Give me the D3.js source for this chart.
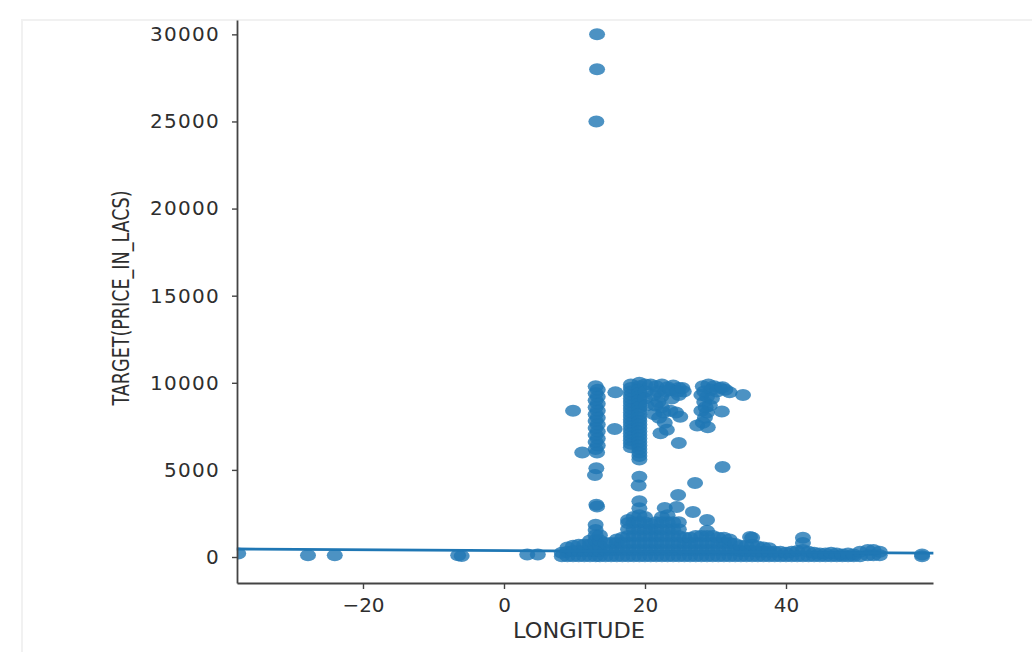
<!DOCTYPE html>
<html>
<head>
<meta charset="utf-8">
<script src="https://cdn.jsdelivr.net/npm/d3@7"></script>
<style>
  body { margin: 0; background: #fff; }
  svg { display: block; font-family: "DejaVu Sans", sans-serif; }
</style>
</head>
<body>
<div id="chart"></div>
<script>
// Far outliers near longitude 13
const outlierPts = [[13.2, 30000], [13.2, 28000], [13.1, 25000]];

// Sparse points west of the main cluster
const westPts = [[-37.7, 200], [-27.8, 100], [-24.0, 100], [-6.5, 100], [-6.0, 60], [3.3, 150], [4.8, 150]];

// Dense base band: longitude of each stack and the prices stacked there
const baseLon = [8.2, 9.0, 9.8, 10.6, 11.4, 12.2, 13.0, 13.6, 14.4, 15.2, 16.0, 16.8, 17.6, 18.4, 19.2, 20.0,
  20.8, 21.6, 22.4, 23.2, 24.0, 24.8, 25.6, 26.4, 27.2, 28.0, 28.8, 29.6, 30.4, 31.2, 32.0, 32.8, 33.6,
  34.4, 35.2, 36.0, 36.8, 37.6, 38.4, 39.2, 40.0, 40.8, 41.6, 42.4, 43.2, 44.0, 44.8, 45.6, 46.4, 47.2,
  48.0, 48.8, 49.6, 50.5, 51.6, 52.4, 53.3, 59.3];
const basePrices = [
  [50, 250], [50, 300, 550], [50, 350, 650], [50, 350, 700], [50, 350, 700], [50, 350, 700, 950],
  [50, 350, 650, 950, 1250, 1550, 1850], [50, 350, 650, 950, 1250], [50, 400, 800], [50, 400, 800],
  [50, 400, 800, 1000], [50, 400, 800, 1100], [50, 400, 800, 1200, 1600, 1950, 2120],
  [50, 400, 800, 1200, 1600, 2000, 2300], [50, 400, 800, 1200, 1600, 2000, 2400, 2800, 3200],
  [50, 400, 800, 1200, 1600, 2000, 2300], [50, 400, 800, 1200, 1600, 1900],
  [50, 400, 800, 1200, 1600, 2000], [50, 400, 800, 1200, 1600, 2000, 2300],
  [50, 400, 800, 1200, 1600, 2000, 2400], [50, 400, 800, 1200, 1600, 2000],
  [50, 400, 800, 1200, 1600, 2000], [50, 400, 800, 1100], [50, 400, 800, 1100],
  [50, 400, 800, 1200], [50, 400, 800, 1200], [50, 400, 800, 1200, 1500], [50, 400, 800, 1200],
  [50, 400, 800, 1100], [50, 400, 800, 1100], [50, 400, 800, 1000], [50, 400, 750], [50, 350, 650],
  [50, 350, 650], [50, 350, 700, 1100], [50, 300, 600], [50, 300, 550], [50, 300, 500], [50, 300],
  [50, 300], [50, 250], [50, 300], [50, 350], [50, 400, 800, 1100], [50, 300], [50, 250], [50, 200],
  [50, 200], [50, 250], [50, 200], [50, 150], [50, 200], [50, 150], [50, 300], [100, 400], [100, 400],
  [100, 300], [50, 150]
];

// Vertical column near longitude 13
const col13Pts = [[13.0, 9800], [13.3, 9600], [13.0, 9400], [13.3, 9200], [13.0, 9000], [13.3, 8800],
  [13.0, 8600], [13.3, 8400], [13.0, 8200], [13.3, 8000], [13.0, 7800], [13.3, 7600], [13.0, 7400],
  [13.3, 7200], [13.0, 7000], [13.3, 6800], [13.0, 6600], [13.3, 6400], [13.0, 6200], [13.2, 6000],
  [13.1, 5100], [12.9, 4700], [13.1, 3000], [13.2, 2900],
  [9.8, 8400], [11.1, 6000], [15.8, 9450], [15.7, 7350]];

// Vertical columns near longitude 18-20
const col19Pts = [[18.0, 9900], [18.0, 9700], [18.0, 9500], [18.0, 9300], [18.0, 9100], [18.0, 8900],
  [18.0, 8700], [18.0, 8500], [18.0, 8300], [18.0, 8100], [18.0, 7900], [18.0, 7700], [18.0, 7500],
  [18.0, 7300], [18.0, 7100], [18.0, 6900], [18.0, 6700], [18.0, 6500], [18.0, 6300],
  [19.2, 10000], [19.2, 9800], [19.2, 9600], [19.2, 9400], [19.2, 9200], [19.2, 9000], [19.2, 8800],
  [19.2, 8600], [19.2, 8400], [19.2, 8200], [19.2, 8000], [19.2, 7800], [19.2, 7600], [19.2, 7400],
  [19.2, 7200], [19.2, 7000], [19.2, 6800], [19.2, 6600], [19.2, 6400], [19.2, 6200], [19.2, 6000],
  [19.2, 5800], [19.2, 5600], [19.2, 4600], [19.1, 4100],
  [20.0, 9900], [20.1, 9500], [20.0, 9100], [20.2, 8700]];

// Upper groups around longitude 21-26 and 27-34
const eastPts = [[20.8, 9900], [21.6, 9800], [22.4, 9900], [23.2, 9750], [24.0, 9850], [24.8, 9700],
  [25.5, 9500], [21.8, 9500], [22.3, 9200], [21.9, 8900], [22.4, 8600], [22.6, 8300], [22.0, 8000],
  [22.8, 7700], [23.1, 7300], [22.2, 7100], [23.6, 8400], [24.4, 8300], [25.0, 8050], [23.8, 9100],
  [24.8, 9300], [24.8, 6550], [21.2, 9300], [21.5, 8700], [21.3, 8200], [22.9, 9500], [23.6, 9600],
  [24.6, 9500], [25.3, 9700],
  [28.2, 9800], [29.0, 9900], [29.8, 9800], [30.6, 9700], [31.4, 9600], [32.0, 9450], [33.9, 9300],
  [28.4, 9500], [28.8, 9200], [28.4, 8900], [28.6, 8600], [28.8, 8300], [28.5, 8000], [28.2, 7700],
  [27.4, 7550], [28.9, 7450], [30.9, 8350], [31.0, 5170], [29.4, 9600], [30.2, 9500], [31.0, 9750],
  [28.0, 9300], [29.2, 8700], [28.0, 8400], [29.5, 9100]];

// Scattered mid-level points
const midPts = [[27.1, 4250], [24.7, 3560], [22.8, 2810], [24.5, 2870], [26.8, 2580], [28.8, 2120], [34.9, 1150]];

// Fitted regression line end points
const regLon = [-37.9, 60.9];
const regPrice = [460, 220];

const xTicks = [-20, 0, 20, 40];
const yTicks = [0, 5000, 10000, 15000, 20000, 25000, 30000];

const W = 1032, H = 652;
const svg = d3.select('#chart').append('svg')
  .attr('width', W)
  .attr('height', H);

svg.append('rect').attr('width', W).attr('height', H).attr('fill', '#fff');
// faint frame of the original screenshot
svg.append('rect')
  .attr('x', 22).attr('y', 20).attr('width', W).attr('height', H)
  .attr('fill', 'none').attr('stroke', '#f1f1f1').attr('stroke-width', 2);

const x = d3.scaleLinear().domain([-37.87, 60.85]).range([237, 933]);
const y = d3.scaleLinear().domain([-1492, 30824]).range([583, 20]);

// collect every point
const allPts = [];
outlierPts.forEach(p => allPts.push(p));
westPts.forEach(p => allPts.push(p));
baseLon.forEach((lon, i) => basePrices[i].forEach(v => allPts.push([lon, v])));
col13Pts.forEach(p => allPts.push(p));
col19Pts.forEach(p => allPts.push(p));
eastPts.forEach(p => allPts.push(p));
midPts.forEach(p => allPts.push(p));

const plot = svg.append('g');
plot.append('clipPath').attr('id', 'clip')
  .append('rect').attr('x', 237).attr('y', 0).attr('width', 696).attr('height', 583);

plot.append('g')
  .attr('clip-path', 'url(#clip)')
  .selectAll('ellipse')
  .data(allPts)
  .join('ellipse')
  .attr('cx', d => x(d[0]))
  .attr('cy', d => y(d[1]))
  .attr('rx', 8)
  .attr('ry', 6)
  .attr('fill', '#1f77b4')
  .attr('fill-opacity', 0.8);

// regression line
plot.append('line')
  .attr('x1', x(regLon[0])).attr('y1', y(regPrice[0]))
  .attr('x2', x(regLon[1])).attr('y2', y(regPrice[1]))
  .attr('stroke', '#1f77b4')
  .attr('stroke-width', 2.8);

// axes
const xAxis = svg.append('g')
  .attr('transform', 'translate(0,583)')
  .call(d3.axisBottom(x).tickValues(xTicks).tickSize(6).tickSizeOuter(0).tickPadding(9)
    .tickFormat(d => d < 0 ? '\u2212' + Math.abs(d) : d));

const yAxis = svg.append('g')
  .attr('transform', 'translate(237,0)')
  .call(d3.axisLeft(y).tickValues(yTicks).tickSize(5).tickSizeOuter(0).tickPadding(12)
    .tickFormat(d3.format('d')));

[xAxis, yAxis].forEach(ax => {
  ax.select('.domain').attr('stroke', '#444').attr('stroke-width', 1.8);
  ax.selectAll('.tick line').attr('stroke', '#444').attr('stroke-width', 1.4);
  ax.selectAll('.tick text')
    .attr('fill', '#2e2e2e')
    .style('font-size', '20px')
    .style('font-family', '"DejaVu Sans", sans-serif');
});
yAxis.selectAll('.tick text').style('letter-spacing', '1.3px');

// axis labels
svg.append('text')
  .attr('x', 579)
  .attr('y', 638)
  .attr('text-anchor', 'middle')
  .attr('fill', '#2e2e2e')
  .attr('font-size', '21px')
  .attr('textLength', 132)
  .attr('lengthAdjust', 'spacingAndGlyphs')
  .text('LONGITUDE');

svg.append('text')
  .attr('transform', 'translate(129,298) rotate(-90) scale(1,1.3)')
  .attr('text-anchor', 'middle')
  .attr('fill', '#2e2e2e')
  .attr('font-size', '17px')
  .attr('textLength', 215)
  .attr('lengthAdjust', 'spacingAndGlyphs')
  .text('TARGET(PRICE_IN_LACS)');
</script>
</body>
</html>
